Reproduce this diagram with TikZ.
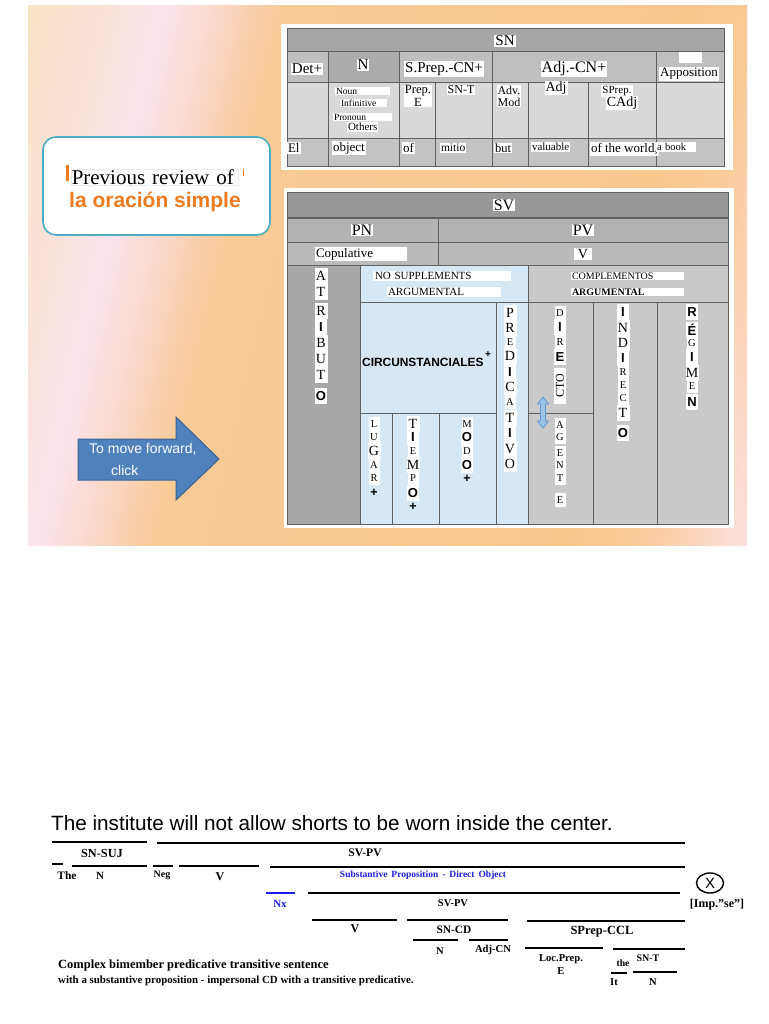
\documentclass[tikz,border=0pt]{standalone}
\usepackage{fontspec}
\setmainfont{Liberation Serif}
\newfontfamily\arial{Liberation Sans}
\usetikzlibrary{shapes.geometric}
\newcommand\fsz[1]{\fontsize{#1pt}{#1pt}\selectfont}
\definecolor{bgA}{HTML}{F9E4C6}
\definecolor{bgB}{HTML}{FBE2D6}
\definecolor{bgC}{HTML}{FCE4EE}
\definecolor{bgD}{HTML}{FAD6C2}
\definecolor{bgE}{HTML}{F8CA96}
\definecolor{bgF}{HTML}{F9C68E}
\definecolor{bgG}{HTML}{FACA96}
\definecolor{bgH}{HTML}{FCE0E0}
\pgfdeclarehorizontalshading{panelbg}{100bp}{color(0bp)=(bgA); color(25bp)=(bgA); color(29bp)=(bgB); color(33.2bp)=(bgC); color(36.9bp)=(bgD); color(40.1bp)=(bgE); color(64.5bp)=(bgF); color(68bp)=(bgG); color(75bp)=(bgH); color(100bp)=(bgH)}
\definecolor{gridc}{HTML}{5F5F5F}
\definecolor{snA}{HTML}{A6A6A6}
\definecolor{snB}{HTML}{BFBFBF}
\definecolor{snN}{HTML}{ACACAC}
\definecolor{snC}{HTML}{D9D9D9}
\definecolor{snD}{HTML}{C3C3C3}
\definecolor{svA}{HTML}{989898}
\definecolor{svB}{HTML}{B3B3B3}
\definecolor{svC}{HTML}{BBBBBB}
\definecolor{svD}{HTML}{A8A8A8}
\definecolor{svE}{HTML}{C9C9C9}
\definecolor{blueC}{HTML}{D6E7F5}
\definecolor{tealc}{HTML}{4BACC6}
\definecolor{orangec}{HTML}{EE7A1E}
\definecolor{arrowc}{HTML}{4F81BD}
\definecolor{arrowd}{HTML}{3A6494}
\definecolor{dblc}{HTML}{9DC3E6}
\definecolor{dbld}{HTML}{5B9BD5}
\definecolor{bluet}{HTML}{1E1EE6}
\tikzset{
  gridl/.style={draw=gridc, line width=0.9pt},
  wb/.style={fill=white, inner sep=1pt, outer sep=0pt},
  wl/.style={wb, anchor=west, align=left},
  sl/.style={fill=white, inner sep=0pt, minimum width=13pt, minimum height=16pt, font=\fsz{14}},
  ss/.style={fill=white, inner sep=0pt, minimum width=11pt, minimum height=14pt, font=\fsz{10.5}},
  bl/.style={fill=white, inner sep=0pt, minimum width=12pt, minimum height=16pt, font=\arial\bfseries\fsz{13}},
  pl/.style={inner sep=0pt, font=\arial\bfseries\fsz{12.5}},
  rulel/.style={line width=2.8pt},
  lab/.style={inner sep=0pt, font=\bfseries\fsz{#1}},
}
\begin{document}
\begin{tikzpicture}[x=1pt,y=-1pt]
\useasboundingbox (0,0) rectangle (768,1024);
\fill[white] (0,0) rectangle (768,1024);
% background panel
\begin{scope}
  \clip (28,6) rectangle (747,545);
  \begin{scope}[transform canvas={xslant=0.24}]
    \shade[shading=panelbg] (28,0) rectangle (880,550);
  \end{scope}
\end{scope}

% ---------------- SN table ----------------
\fill[white] (281,24) rectangle (733,170);
\fill[snA] (287,28) rectangle (724,51);
\fill[snB] (287,51) rectangle (724,82);
\fill[snN] (328,51) rectangle (399,82);
\fill[snC] (287,82) rectangle (724,138);
\fill[snD] (287,138) rectangle (724,166);
\draw[gridl] (287,28) rectangle (724,166);
\draw[gridl] (287,51) -- (724,51) (287,82) -- (724,82) (287,138) -- (724,138);
\draw[gridl] (328,51) -- (328,166) (399,51) -- (399,166) (492,51) -- (492,166) (656,51) -- (656,166);
\draw[gridl] (435,82) -- (435,166) (528,82) -- (528,166) (588,82) -- (588,166);

\node[wb, font=\fsz{15}] (snH) at (505,41) {SN};
\node[wb, font=\fsz{15}] (detH) at (307,69) {Det+};
\node[wb, font=\fsz{15}] (nH) at (363,65) {N};
\node[wb, font=\fsz{15}] (spH) at (444,69) {S.Prep.-CN+};
\node[wb, font=\fsz{16}] (adjH) at (574,69) {Adj.-CN+};
\node[fill=white, minimum width=23pt, minimum height=11pt, inner sep=0pt] (appBlank) at (690,58) {};
\node[wb, font=\fsz{13}] (appH) at (689,74) {Apposition};

\node[wl, font=\fsz{9.5}, text width=53pt] (noun) at (335,91) {Noun};
\node[wl, font=\fsz{9.5}, text width=45pt] (infin) at (340,103) {Infinitive};
\node[wl, font=\fsz{9.5}, text width=57pt] (pron) at (333,117) {Pronoun};
\node[wl, font=\fsz{11}, text width=29pt] (others) at (347,127) {Others};
\node[wb, font=\fsz{12.5}, align=center] (prep) at (418,96) {Prep.\\E};
\node[wb, font=\fsz{12}] (snt) at (461,90) {SN-T};
\node[wb, font=\fsz{12}, align=center] (advm) at (509,96) {Adv.\\Mod};
\node[wb, font=\fsz{14}] (adj) at (556,88) {Adj};
\node[wb, font=\fsz{11}] (sprep) at (617,91) {SPrep.};
\node[wb, font=\fsz{14}] (cadj) at (622,103) {CAdj};

\node[wl, font=\fsz{13}, text width=12pt] (el) at (287,148) {El};
\node[wl, font=\fsz{13}, text width=32pt] (obj) at (332,148) {object};
\node[wl, font=\fsz{13}] (of) at (402,148) {of};
\node[wl, font=\fsz{11.5}] (mitio) at (440,148) {mitio};
\node[wl, font=\fsz{12.5}] (but) at (494,148) {but};
\node[wl, font=\fsz{11}] (valu) at (531,147) {valuable};
\node[wl, font=\fsz{13}] (world) at (590,149) {of the world,};
\node[wl, font=\fsz{10.5}, text width=38pt] (book) at (656,147) {a book};

% ---------------- Previous review box ----------------
\node[draw=tealc, line width=1.6pt, rounded corners=13pt, fill=white, minimum width=227pt, minimum height=98pt] (prevbox) at (156.5,186) {};
\node[fill=white, draw=black!8, line width=0.5pt, anchor=west, inner sep=0.5pt, font=\fsz{21}, text width=166pt] (prevt) at (71,177.5) {Previous review of};
\fill[orangec] (66,165) rectangle (69,181);
\fill[orangec] (242.5,169) rectangle (244,176);
\node[font=\arial\bfseries\fsz{21}, text=orangec, anchor=west, inner sep=0pt] (orac) at (69,202) {la oración simple};

% ---------------- Arrow ----------------
\filldraw[fill=arrowc, draw=arrowd, line width=1pt] (78,439) -- (176,439) -- (176,417) -- (219,459) -- (176,500) -- (176,480) -- (78,480) -- cycle;
\node[font=\arial\fsz{14}, text=white, anchor=west, inner sep=0pt] (mv1) at (89,449) {To move forward,};
\node[font=\arial\fsz{14}, text=white, anchor=west, inner sep=0pt] (mv2) at (111,470) {click};

% ---------------- SV table ----------------
\fill[white] (284,188) rectangle (734,528);
\fill[svA] (287,192) rectangle (728,218);
\fill[svB] (287,218) rectangle (728,242);
\fill[svC] (287,242) rectangle (728,265);
\fill[svD] (287,265) rectangle (360,524);
\fill[blueC] (360,265) rectangle (528,524);
\fill[svE] (528,265) rectangle (728,524);
\draw[gridl] (287,192) rectangle (728,524);
\draw[gridl, line width=1.4pt] (287,218) -- (728,218);
\draw[gridl] (287,242) -- (728,242) (287,265) -- (728,265) (360,302) -- (728,302);
\draw[gridl] (438,218) -- (438,265);
\draw[gridl] (360,265) -- (360,524) (528,265) -- (528,524);
\draw[gridl] (496,302) -- (496,524) (593,302) -- (593,524) (657,302) -- (657,524);
\draw[gridl] (360,413) -- (496,413) (392,413) -- (392,524) (439,413) -- (439,524);
\draw[gridl] (528,413) -- (593,413);

\node[wb, font=\fsz{16}] (svH) at (504,205) {SV};
\node[wb, font=\fsz{16}] (pnH) at (362,230) {PN};
\node[wb, font=\fsz{16}] (pvH) at (583,230) {PV};
\node[wl, font=\fsz{13}, text width=90pt] (copul) at (315,254) {Copulative};
\node[wb, font=\fsz{14}, minimum width=18pt] (vH) at (583,254) {V};
\node[wl, font=\fsz{11}, text width=136pt] (nosup) at (373,276) {\hspace*{1pt}NO SUPPLEMENTS};
\node[wl, font=\fsz{11}, text width=112pt] (argL) at (387,292) {ARGUMENTAL};
\node[wl, font=\fsz{10}, text width=111pt] (compl) at (571,276) {COMPLEMENTOS};
\node[wl, font=\bfseries\fsz{10}, text width=111pt] (argR) at (571,292) {ARGUMENTAL};

\node[font=\arial\bfseries\fsz{11.9}, anchor=west, inner sep=0pt] (circ) at (362,362) {CIRCUNSTANCIALES};
\node[pl, font=\arial\bfseries\fsz{10}] (circp) at (488,355) {+};

\foreach \l/\y/\s [count=\i] in {A/276/sl, T/292/sl, R/311/sl, I/327/bl, B/343/sl, U/359/sl, T/375/sl, O/396/bl}
  \node[\s] (atr\i) at (321,\y) {\l};
\foreach \l/\y/\s [count=\i] in {P/313/sl, R/328/sl, E/342/ss, D/356/sl, I/372/bl, C/387/sl, A/402/ss, T/418/sl, I/433/bl, V/449/sl, O/464/sl}
  \node[\s] (pre\i) at (510,\y) {\l};
\foreach \l/\y/\s [count=\i] in {L/424/ss, U/437/ss, G/451/sl, A/465/ss, R/478/ss, +/493/pl}
  \node[\s] (lug\i) at (374,\y) {\l};
\foreach \l/\y/\s [count=\i] in {T/424/sl, I/437/bl, E/451/ss, M/465/sl, P/478/ss, O/493/bl, +/507/pl}
  \node[\s] (tie\i) at (413,\y) {\l};
\foreach \l/\y/\s [count=\i] in {M/424/ss, O/437/bl, D/451/ss, O/465/bl, +/479/pl}
  \node[\s] (mod\i) at (467,\y) {\l};
\foreach \l/\y/\s [count=\i] in {D/313/ss, I/327/bl, R/342/ss, E/357/bl}
  \node[\s] (dir\i) at (560,\y) {\l};
\node[fill=white, inner sep=0pt, minimum width=36pt, minimum height=12pt, rotate=90, font=\fsz{12}] (dirR) at (560,386) {CTO};
\foreach \l/\y/\s [count=\i] in {A/425/ss, G/437/ss, E/453/ss, N/465/ss, T/478/ss, E/500/ss}
  \node[\s] (age\i) at (560,\y) {\l};
\foreach \l/\y/\s [count=\i] in {I/312/bl, N/328/sl, D/343/sl, I/358/bl, R/372/ss, E/385/ss, C/398/ss, T/413/sl, O/433/bl}
  \node[\s] (ind\i) at (623,\y) {\l};
\foreach \l/\y/\s [count=\i] in {R/312/bl, É/330/bl, G/343/ss, I/357/bl, M/373/sl, E/386/ss, N/402/bl}
  \node[\s] (reg\i) at (692,\y) {\l};

\filldraw[fill=dblc, draw=dbld, line width=0.8pt] (543,397) -- (548.5,404) -- (545.5,404) -- (545.5,421) -- (548.5,421) -- (543,428) -- (537.5,421) -- (540.5,421) -- (540.5,404) -- (537.5,404) -- cycle;

% ---------------- Bottom analysis ----------------
\node[font=\arial\fsz{20.7}, anchor=west, inner sep=0pt] (sent) at (51,823) {The institute will not allow shorts to be worn inside the center.};

\draw[rulel] (52,842) -- (147,842);
\draw[rulel] (157,843) -- (685,843);
\draw[rulel] (52,864) -- (63,864);
\draw[rulel] (72,866) -- (147,866);
\draw[rulel] (153,866) -- (173,866);
\draw[rulel] (179,866) -- (259,866);
\draw[rulel] (270,867) -- (685,867);
\draw[rulel, bluet] (266,893) -- (295,893);
\draw[rulel] (308,893) -- (680,893);
\draw[rulel] (312,920) -- (397,920);
\draw[rulel] (407,920) -- (508,920);
\draw[rulel] (527,921) -- (685,921);
\draw[rulel] (413,940) -- (458,940);
\draw[rulel] (469,940) -- (508,940);
\draw[rulel] (525,948) -- (603,948);
\draw[rulel] (613,949) -- (685,949);
\draw[rulel] (611,973) -- (627,973);
\draw[rulel] (633,972) -- (677,972);

\node[lab=12.3] (snsuj) at (102,853) {SN-SUJ};
\node[lab=11.6] (svpv1) at (365,853) {SV-PV};
\node[lab=11.4] (the) at (67,876) {The};
\node[lab=11] (n1) at (100,876) {N};
\node[lab=10] (neg) at (162,875) {Neg};
\node[lab=12] (v1) at (220,877) {V};
\node[lab=9.5, text=bluet] (subst) at (423,875) {Substantive\hspace{4pt}Proposition\hspace{4pt}-\hspace{4pt}Direct\hspace{4pt}Object};
\node[lab=11, text=bluet] (nx) at (280,904) {Nx};
\node[lab=10.5] (svpv2) at (453,903) {SV-PV};
\node[draw, ellipse, line width=1.4pt, minimum width=27pt, minimum height=20pt, inner sep=0pt, font=\arial\fsz{15}] (xc) at (710,883) {X};
\node[lab=12] (imp) at (717,905) {[Imp.”se”]};
\node[lab=12] (v2) at (355,929) {V};
\node[lab=11.4] (sncd) at (454,930) {SN-CD};
\node[lab=12.5] (sprepccl) at (602,932) {SPrep-CCL};
\node[lab=10.5] (n2) at (440,951) {N};
\node[lab=10.6] (adjcn) at (493,950) {Adj-CN};
\node[lab=10.6] (locprep) at (561,959) {Loc.Prep.};
\node[lab=10.6] (loce) at (561,971) {E};
\node[lab=9.7] (the2) at (623,963) {the};
\node[lab=10] (snt2) at (648,958) {SN-T};
\node[lab=10.5] (it) at (614,982) {It};
\node[lab=10.5] (n3) at (653,982) {N};
\node[lab=12.5, anchor=west] (cbps) at (58,965) {Complex bimember predicative transitive sentence};
\node[lab=10.9, anchor=west] (cbps2) at (58,981) {with a substantive proposition - impersonal CD with a transitive predicative.};
\end{tikzpicture}
\end{document}
